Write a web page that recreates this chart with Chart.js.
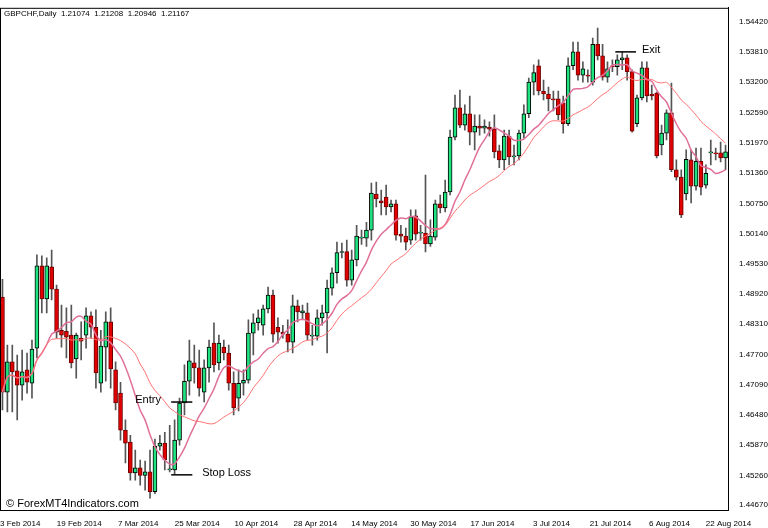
<!DOCTYPE html>
<html><head><meta charset="utf-8">
<script src="https://cdn.jsdelivr.net/npm/chart.js@4.4.1/dist/chart.umd.min.js"></script>
<style>html,body{margin:0;padding:0;background:#fff}#w{width:768px;height:528px}</style>
</head><body><div id="w"><canvas id="c"></canvas></div>
<script>
// prices in units of 0.0001
const opens=[14886,14694,14755,14737,14708,14739,14712,14783,14949,14882,14947,14902,14819,14817,14809,14761,14803,14809,14848,14825,14712,14785,14836,14739,14692,14617,14593,14531,14541,14526,14533,14493,14585,14591,14537,14537,14597,14672,14716,14753,14743,14694,14743,14793,14753,14785,14773,14712,14682,14712,14718,14813,14834,14829,14862,14890,14825,14815,14811,14795,14868,14854,14854,14807,14807,14844,14854,14904,14935,14976,14978,14920,14961,15005,15005,15021,15094,15080,15088,15068,15074,15013,15009,15001,15050,15015,15015,14993,15007,15074,15066,15098,15209,15268,15233,15256,15219,15231,15227,15229,15225,15181,15163,15211,15169,15171,15217,15256,15320,15353,15302,15296,15286,15286,15278,15236,15353,15381,15334,15334,15320,15396,15373,15330,15353,15351,15365,15369,15341,15236,15288,15349,15296,15298,15193,15217,15258,15143,15128,15094,15163,15110,15160,15112,15177,15177,15177,15167];
const closes=[14694,14755,14735,14708,14735,14714,14781,14949,14882,14949,14902,14815,14809,14805,14753,14809,14797,14848,14825,14733,14787,14836,14741,14672,14617,14591,14531,14541,14526,14533,14493,14585,14591,14557,14539,14597,14672,14716,14757,14743,14702,14743,14785,14749,14793,14773,14712,14662,14712,14718,14813,14834,14844,14862,14890,14811,14815,14811,14795,14868,14856,14858,14809,14809,14844,14854,14904,14935,14976,14978,14920,14961,15009,15007,15021,15096,15084,15076,15068,15074,15011,15009,14997,15048,15013,15017,14993,15009,15074,15066,15098,15209,15268,15233,15256,15219,15231,15227,15231,15225,15179,15163,15211,15169,15171,15217,15256,15320,15339,15302,15296,15286,15284,15254,15236,15353,15381,15334,15347,15332,15396,15373,15330,15347,15351,15365,15369,15341,15221,15288,15349,15292,15292,15171,15217,15258,15143,15128,15052,15164,15110,15160,15108,15136,15179,15175,15167,15179];
const highs=[14922,14789,14789,14769,14779,14773,14799,14971,14969,14965,14981,14910,14870,14864,14870,14813,14836,14864,14856,14860,14819,14856,14864,14755,14714,14638,14607,14577,14557,14555,14577,14599,14607,14613,14627,14638,14682,14749,14799,14789,14779,14759,14799,14834,14809,14799,14789,14735,14739,14739,14840,14852,14860,14870,14906,14900,14844,14829,14840,14890,14880,14870,14874,14829,14860,14870,14920,14945,14997,14995,15001,14981,15031,15021,15037,15116,15118,15102,15112,15082,15082,15031,15025,15062,15062,15031,15132,15042,15082,15092,15122,15223,15294,15304,15274,15292,15254,15254,15244,15240,15254,15193,15223,15223,15193,15223,15274,15328,15355,15365,15324,15310,15302,15302,15292,15369,15401,15401,15361,15345,15409,15429,15396,15361,15365,15375,15381,15375,15345,15294,15361,15361,15314,15300,15233,15264,15318,15163,15143,15183,15183,15187,15187,15153,15203,15187,15199,15193];
const lows=[14658,14654,14654,14638,14678,14692,14682,14763,14854,14854,14880,14803,14785,14763,14743,14722,14759,14783,14803,14702,14694,14716,14702,14658,14597,14551,14516,14516,14506,14496,14480,14489,14577,14537,14533,14529,14587,14648,14688,14712,14686,14674,14714,14735,14739,14759,14698,14648,14656,14688,14712,14769,14819,14809,14854,14795,14793,14803,14775,14773,14836,14840,14799,14789,14799,14829,14773,14890,14914,14965,14908,14910,14949,14992,14988,15001,15068,15052,15052,15058,15001,14997,14981,14992,15001,15001,14977,14988,15001,15056,15058,15092,15203,15228,15223,15193,15183,15213,15217,15211,15167,15147,15143,15153,15153,15163,15207,15248,15294,15294,15284,15262,15262,15244,15217,15232,15345,15324,15320,15320,15314,15365,15324,15320,15341,15334,15345,15324,15219,15230,15284,15280,15284,15167,15173,15203,15139,15122,15046,15082,15076,15102,15092,15106,15153,15163,15159,15143];
const tickLabels=['3 Feb 2014','19 Feb 2014','7 Mar 2014','25 Mar 2014','10 Apr 2014','28 Apr 2014','14 May 2014','30 May 2014','17 Jun 2014','3 Jul 2014','21 Jul 2014','6 Aug 2014','22 Aug 2014'];
const tickIndex=[3,15,27,39,51,63,75,87,99,111,123,135,147];
const priceTicks=[1.5442,1.5381,1.5320,1.5259,1.5197,1.5136,1.5075,1.5014,1.4953,1.4892,1.4831,1.4770,1.4709,1.4648,1.4587,1.4526,1.4467];

const n=opens.length;
const P=v=>v/10000;
const labels=Array.from({length:n},(_,i)=>{const k=tickIndex.indexOf(i);return k>=0?tickLabels[k]:'';});
const body=opens.map((o,i)=>[P(Math.min(o,closes[i])),P(Math.max(o,closes[i]))+(o===closes[i]?0.00008:0)]);
const wick=highs.map((h,i)=>[P(lows[i]),P(h)]);
const up=opens.map((o,i)=>closes[i]>=o);
function sma(p){return closes.map((_,i)=>{let s=0,c=0;for(let j=Math.max(0,i-p+1);j<=i;j++){s+=closes[j];c++;}return P(s/c);});}
const fast=sma(10), slow=sma(21);

const deco={id:'deco',afterDatasetsDraw(ch){
  const c=ch.ctx,x=ch.scales.x,y=ch.scales.y,a=ch.chartArea;
  c.save();
  c.strokeStyle='#000';c.lineWidth=1.5;
  const hl=(i0,i1,v)=>{c.beginPath();c.moveTo(x.getPixelForValue(i0),y.getPixelForValue(v));c.lineTo(x.getPixelForValue(i1),y.getPixelForValue(v));c.stroke();};
  hl(34.3,38.6,1.4674);hl(34.3,38.6,1.4527);hl(124.6,128.8,1.5381);
  c.fillStyle='#000';c.font='11px "Liberation Sans",Arial';c.textBaseline='middle';
  c.fillText('Entry',x.getPixelForValue(27.0),y.getPixelForValue(1.4678));
  c.fillText('Stop Loss',x.getPixelForValue(40.6),y.getPixelForValue(1.4531));
  c.fillText('Exit',x.getPixelForValue(130),y.getPixelForValue(1.5385));
  c.font='8px "Liberation Sans",Arial';c.textBaseline='top';
  c.fillText('GBPCHF,Daily  1.21074  1.21208  1.20946  1.21167',4,a.top+2);
  c.font='11px "Liberation Sans",Arial';c.textBaseline='alphabetic';
  c.fillText('\u00a9 ForexMT4Indicators.com',6,a.bottom-3);
  c.strokeStyle='#000';c.lineWidth=1;
  c.strokeRect(a.left+0.5,a.top+0.5,a.right-a.left,a.bottom-a.top);
  c.restore();
}};

new Chart(document.getElementById('c'),{
  data:{labels,datasets:[
    {type:'line',data:slow,borderColor:'#ff7070',borderWidth:1,pointRadius:0,tension:0.3,order:0},
    {type:'line',data:fast,borderColor:'#e0709a',borderWidth:1.5,pointRadius:0,tension:0.3,order:0},
    {type:'bar',data:body,backgroundColor:up.map(u=>u?'#1ee37f':'#e00000'),borderColor:up.map(u=>u?'#000':'#700000'),borderWidth:1,borderSkipped:false,barThickness:4,grouped:false,order:1},
    {type:'bar',data:wick,backgroundColor:'#555',barThickness:1,grouped:false,order:2}
  ]},
  options:{responsive:true,maintainAspectRatio:false,animation:false,
    layout:{padding:{left:0,right:0,top:0,bottom:0}},
    plugins:{legend:{display:false},tooltip:{enabled:false}},
    scales:{
      x:{offset:true,grid:{display:false},border:{color:'#000'},
        ticks:{autoSkip:false,maxRotation:0,color:'#000',font:{size:8,family:'"Liberation Sans",Arial'},padding:1,labelOffset:3,
          callback:(v,i)=>labels[i]},
        afterFit:s=>{s.height=18;}},
      y:{position:'right',min:1.4456,max:1.5470,grid:{display:false},border:{color:'#000'},
        afterBuildTicks:s=>{s.ticks=priceTicks.map(v=>({value:v}));},
        ticks:{color:'#000',font:{size:8,family:'"Liberation Sans",Arial'},padding:3,callback:v=>v.toFixed(5)},
        afterFit:s=>{s.width=40;}}
    }},
  plugins:[deco]
});
</script></body></html>
